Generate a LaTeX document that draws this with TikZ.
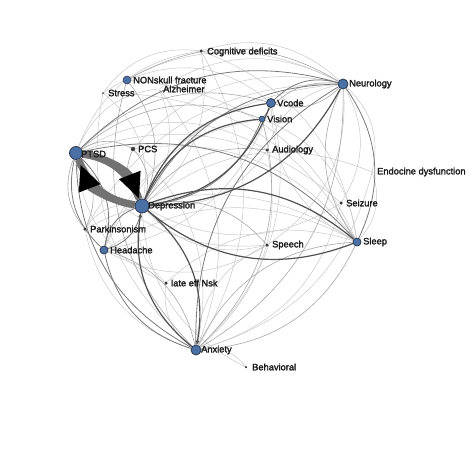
\documentclass[tikz,border=0pt]{standalone}
\usepackage{fontspec}
\setmainfont{Liberation Sans}
\newfontfamily\labfont{Liberation Sans}[BoldFont={Liberation Sans}, BoldFeatures={FakeBold=2}]
\usetikzlibrary{arrows.meta}
\definecolor{nodeblue}{HTML}{4A70A6}
\definecolor{nodeedge}{HTML}{2E3A50}
\definecolor{dotgray}{HTML}{3A3A3A}
\definecolor{labelc}{HTML}{1A1A1A}
\definecolor{thickc}{HTML}{727272}
\pgfdeclarelayer{bg}
\pgfsetlayers{bg,main}
\tikzset{
  big/.style={circle, fill=nodeblue, draw=nodeedge, line width=0.8pt, inner sep=0pt, minimum size=#1},
  dot/.style={circle, fill=dotgray, inner sep=0pt, minimum size=#1},
  lab/.style={anchor=west, font=\labfont\bfseries\fontsize{9.3}{10}\selectfont, text=labelc, inner sep=0pt},
  arc/.style={bend left=30},
  thickband/.style={arc, draw=thickc, line width=7pt},
  thickedge/.style={arc, draw=thickc, line width=7pt, -{Triangle[length=26pt,width=21pt,color=black]}},
  e4/.style={arc, draw=black!68, line width=1.2pt},
  e3/.style={arc, draw=black!52, line width=0.8pt},
  e2/.style={arc, draw=black!34, line width=0.6pt},
  e1/.style={arc, draw=black!21, line width=0.5pt},
  tip/.style={-{Triangle[length=4pt,width=3.5pt]}},
}
\begin{document}
\begin{tikzpicture}[x=1pt,y=-1pt]
\useasboundingbox (0,0) rectangle (474,474);
% nodes
\node[dot=3.5pt] (cog) at (201,51) {};
\node[big=8pt, line width=0.6pt] (nonsk) at (127,80) {};
\node[inner sep=0pt, minimum size=1pt] (alz) at (159,89) {};
\node[dot=2pt] (stress) at (103,93) {};
\node[big=10pt] (neuro) at (343,84) {};
\node[big=9pt] (vcode) at (271,103) {};
\node[big=6pt, line width=0.6pt] (vision) at (262,119) {};
\node[dot=3.5pt] (audio) at (267,150) {};
\node[big=13pt] (ptsd) at (76,153) {};
\node[dot=4pt, draw=dotgray] (pcs) at (133,149) {};
\node[dot=1.5pt, fill=black!30] (endo) at (372,172) {};
\node[big=14pt] (dep) at (142,206) {};
\node[dot=3.5pt] (seiz) at (341,203) {};
\node[dot=3.5pt] (park) at (85,229) {};
\node[big=8pt] (head) at (104,250) {};
\node[big=8pt] (sleep) at (357,242) {};
\node[dot=3.5pt] (speech) at (267,245) {};
\node[dot=3.5pt] (late) at (166,283) {};
\node[big=10pt] (anx) at (196,350) {};
\node[dot=2.5pt] (behav) at (246,367) {};
% labels
\node[lab] (cogL) at (207,52) {Cognitive deficits};
\node[lab] (nonskL) at (133,80) {NONskull fracture};
\node[lab] (alzL) at (163,89) {Alzheimer};
\node[lab] (stressL) at (108,93) {Stress};
\node[lab] (neuroL) at (349,84) {Neurology};
\node[lab] (vcodeL) at (277,103) {Vcode};
\node[lab] (visionL) at (267,119) {Vision};
\node[lab] (audioL) at (272,150) {Audiology};
\node[lab] (ptsdL) at (81,154) {PTSD};
\node[lab] (pcsL) at (138,149) {PCS};
\node[lab] (endoL) at (377,172) {Endocine dysfunction};
\node[lab] (depL) at (148,206) {Depression};
\node[lab] (seizL) at (346,203) {Seizure};
\node[lab] (parkL) at (90,229) {Parkinsonism};
\node[lab] (headL) at (110,250) {Headache};
\node[lab] (sleepL) at (363,242) {Sleep};
\node[lab] (speechL) at (272,245) {Speech};
\node[lab] (lateL) at (171,283) {late eff Nsk};
\node[lab] (anxL) at (201,350) {Anxiety};
\node[lab] (behavL) at (252,367) {Behavioral};
% edges
\begin{pgfonlayer}{bg}
\fill[white] (0,0) rectangle (474,474);
% very light
\draw[e1] (cog) to (neuro);
\draw[e1] (ptsd) to (cog);
\draw[e1] (stress) to (cog);
\draw[e1] (cog) to (anx);
\draw[e1] (cog) to (dep);
\draw[e1] (cog) to (sleep);
\draw[e1] (stress) to (dep);
\draw[e1] (stress) to (neuro);
\draw[e1] (anx) to (stress);
\draw[e1] (stress) to (sleep);
\draw[e1] (alz) to (dep);
\draw[e1] (alz) to (anx);
\draw[e1] (alz) to (neuro);
\draw[e1] (ptsd) to (alz);
\draw[e1] (audio) to (dep);
\draw[e1] (audio) to (anx);
\draw[e1] (ptsd) to (audio);
\draw[e1] (audio) to (neuro);
\draw[e1] (neuro) to (endo);
\draw[e1] (endo) to (anx);
\draw[e1] (endo) to (sleep);
\draw[e1] (dep) to (endo);
\draw[e1] (seiz) to (dep);
\draw[e1] (neuro) to (seiz);
\draw[e1] (ptsd) to (seiz);
\draw[e1] (seiz) to (anx);
\draw[e1] (speech) to (dep);
\draw[e1] (speech) to (ptsd);
\draw[e1] (anx) to (speech);
\draw[e1] (neuro) to (speech);
\draw[e1] (park) to (dep);
\draw[e1] (anx) to (park);
\draw[e1] (park) to (sleep);
\draw[e1] (late) to (dep);
\draw[e1] (late) to (ptsd);
\draw[e1] (anx) to (late);
\draw[e1] (late) to (sleep);
\draw[e1] (behav) to (dep);
\draw[e1] (anx) to (behav);
\draw[e1] (head) to (sleep);
\draw[e1] (head) to (neuro);
\draw[e1] (vcode) to (anx);
\draw[e1] (vision) to (sleep);
\draw[e1] (sleep) to (vcode);
\draw[e1] (vcode) to (head);
\draw[e1] (pcs) to (sleep);
\draw[e1] (pcs) to (anx);
\draw[e1] (pcs) to (neuro);
\draw[e1] (nonsk) to (sleep);
\draw[e1] (nonsk) to (vcode);
\draw[e1] (head) to (vision);
\draw[e1] (speech) to (head);
\draw[e1] (park) to (neuro);
% light
\draw[e2] (nonsk) to (neuro);
\draw[e2] (nonsk) to (dep);
\draw[e2] (anx) to (nonsk);
\draw[e2] (pcs) to (dep);
\draw[e2] (dep) to (pcs);
\draw[e2] (ptsd) to (pcs);
\draw[e2] (ptsd) to (vcode);
\draw[e2] (ptsd) to (vision);
\draw[e2] (vision) to (anx);
\draw[e2] (neuro) to (anx);
\draw[e2] (sleep) to (anx);
\draw[e2] (anx) to (sleep);
\draw[e2] (neuro) to (vcode);
\draw[e2] (vision) to (neuro);
\draw[e2] (sleep) to (neuro);
\draw[e2] (dep) to (speech);
\draw[e2] (dep) to (audio);
\draw[e2] (park) to (ptsd);
\draw[e2] (ptsd) to (park);
\draw[e2] (head) to (anx);
% medium
\draw[e3] (ptsd) to (neuro);
\draw[e3] (ptsd) to (sleep);
\draw[e3] (anx) to (ptsd);
\draw[e3] (anx) to (head);
\draw[e3] (ptsd) to (head);
\draw[e3] (head) to (ptsd);
\draw[e3] (head) to (dep);
\draw[e3] (dep) to (head);
\draw[e3] (neuro) to (sleep);
\draw[e3] (vcode) to (neuro);
\draw[e3] (anx) to (neuro);
\draw[e3] (vision) to (dep);
\draw[e3] (dep) to (neuro);
% dark
\draw[e4] (dep) to (vcode);
\draw[e4] (vcode) to (dep);
\draw[e4] (dep) to (vision);
\draw[e4] (neuro) to (dep);
\draw[e4] (dep) to (sleep);
\draw[e4] (sleep) to (dep);
\draw[e4, tip] (dep) to (anx);
\draw[e4, tip] (anx) to (dep);
% thick PTSD-Depression: full band, then arrowhead on top
\draw[thickband] (ptsd) to (dep);
\draw[thickband] (dep) to (ptsd);
\draw[thickedge] (ptsd) to (dep);
\draw[thickedge, shorten >=5pt] (dep) to (ptsd);
\end{pgfonlayer}
\end{tikzpicture}
\end{document}
